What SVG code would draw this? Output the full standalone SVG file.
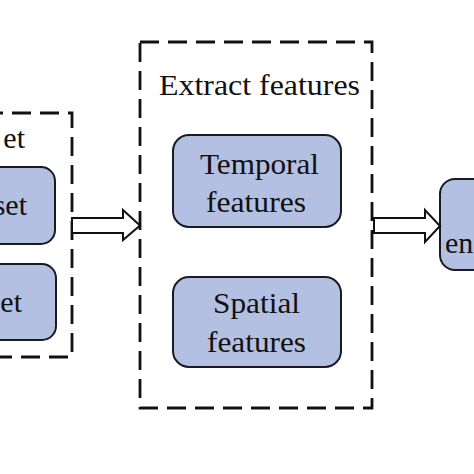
<svg xmlns="http://www.w3.org/2000/svg" width="474" height="474" viewBox="0 0 474 474">
<style>
.dash{fill:none;stroke:#111;stroke-width:2.8;stroke-dasharray:19 9}
.node{fill:#b4c0e1;stroke:#1a1a22;stroke-width:2}
.t{font-family:"Liberation Serif","Times New Roman",serif;font-size:30px;fill:#111}
.arrow{fill:#fff;stroke:#111;stroke-width:2;stroke-linejoin:miter}
</style>
<rect width="474" height="474" fill="#fff"/>
<g id="box-left">
<rect class="dash" x="-100" y="113" width="172" height="244"/>
<text class="t" x="25" y="148" text-anchor="end">et</text>
</g>
<g id="node-left1">
<rect class="node" x="-40" y="167" width="95" height="77" rx="14"/>
<text class="t" x="27" y="215" text-anchor="end">set</text>
</g>
<g id="node-left2">
<rect class="node" x="-40" y="264" width="96" height="76" rx="14"/>
<text class="t" x="22" y="312" text-anchor="end">et</text>
</g>
<g id="box-extract">
<rect class="dash" x="140" y="42" width="232" height="366"/>
<text class="t" x="159" y="95" font-size="28" textLength="201" lengthAdjust="spacingAndGlyphs">Extract features</text>
</g>
<g id="node-temporal">
<rect class="node" x="173" y="135" width="168" height="92" rx="16"/>
<text class="t" x="200" y="174" textLength="119" lengthAdjust="spacingAndGlyphs">Temporal</text>
<text class="t" x="206" y="212" textLength="100" lengthAdjust="spacingAndGlyphs">features</text>
</g>
<g id="node-spatial">
<rect class="node" x="173" y="277" width="168" height="90" rx="16"/>
<text class="t" x="213" y="313" textLength="87" lengthAdjust="spacingAndGlyphs">Spatial</text>
<text class="t" x="207" y="352" textLength="99" lengthAdjust="spacingAndGlyphs">features</text>
</g>
<g id="node-right">
<rect class="node" x="440" y="179" width="100" height="91" rx="15"/>
<text class="t" x="445" y="253">en</text>
</g>
<g id="connectors">
<path class="arrow" d="M72,218 H123 V210 L140,225.5 L123,240 V233 H72 Z"/>
<path class="arrow" d="M374,218 H425 V210 L440,226 L425,242 V233 H374 Z"/>
</g>
</svg>
